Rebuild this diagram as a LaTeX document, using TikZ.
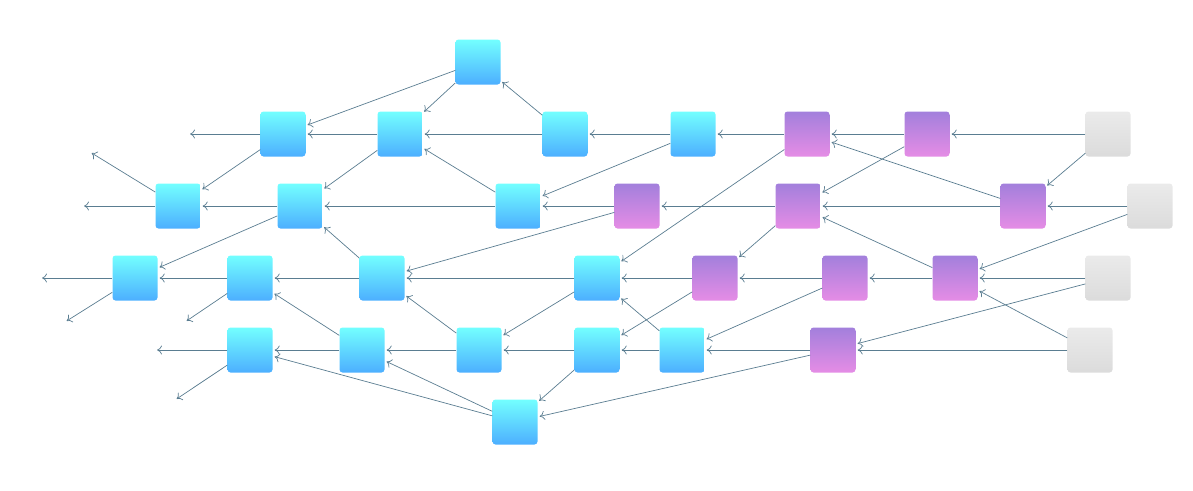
\documentclass[tikz,border=0pt]{standalone}
\usetikzlibrary{arrows.meta}
\begin{document}
\begin{tikzpicture}[x=1pt,y=-1pt,
 sq/.style={minimum size=45pt,inner sep=0pt,rounded corners=3pt,shading=axis,shading angle=225},
 bl/.style={sq,top color=cyan!55!white,bottom color=blue!45!cyan!70!white},
 pu/.style={sq,top color=blue!45!violet!50!white,bottom color=violet!45!magenta!45!white},
 gr/.style={sq,top color=black!8,bottom color=black!14},
 ed/.style={draw={rgb,255:red,90;green,125;blue,145},line width=0.7pt,-{To[length=5pt,width=9pt]},shorten >=2pt}]
\useasboundingbox (0,0) rectangle (1193,490);
\node[bl] (A0) at (478,62) {};
\foreach \n/\x/\s in {B1/283/bl,B2/400/bl,B3/565/bl,B4/693/bl,B5/807/pu,B6/927/pu,B7/1108/gr}
 \node[\s] (\n) at (\x,134) {};
\foreach \n/\x/\s in {C1/178/bl,C2/300/bl,C3/518/bl,C4/637/pu,C5/798/pu,C6/1023/pu,C7/1150/gr}
 \node[\s] (\n) at (\x,206) {};
\foreach \n/\x/\s in {D1/135/bl,D2/250/bl,D3/382/bl,D4/597/bl,D5/715/pu,D6/845/pu,D7/955/pu,D8/1108/gr}
 \node[\s] (\n) at (\x,278) {};
\foreach \n/\x/\s in {E1/250/bl,E2/362/bl,E3/479/bl,E4/597/bl,E5/682/bl,E6/833/pu,E7/1090/gr}
 \node[\s] (\n) at (\x,350) {};
\node[bl] (F1) at (515,422) {};
\coordinate (f1) at (188,134);
\coordinate (f2) at (90,152);
\coordinate (f3) at (82,206);
\coordinate (f4) at (40,278);
\coordinate (f5) at (65,322);
\coordinate (f6) at (185,322);
\coordinate (f7) at (155,350);
\coordinate (f8) at (175,400);
\foreach \a/\b in {A0/B1,A0/B2,B3/A0,B1/f1,B2/B1,B3/B2,B4/B3,B5/B4,B6/B5,B7/B6,
 B1/C1,B2/C2,C3/B2,B4/C3,B5/D4,B6/C5,C6/B5,B7/C6,
 C1/f2,C1/f3,C2/C1,C3/C2,C4/C3,C5/C4,C6/C5,C7/C6,
 C2/D1,D3/C2,C4/D3,C5/D5,D7/C5,C7/D7,
 D1/f4,D1/f5,D2/D1,D3/D2,D4/D3,D5/D4,D6/D5,D7/D6,D8/D7,
 D2/f6,E2/D2,E3/D3,D4/E3,D5/E4,E5/D4,D6/E5,E7/D7,D8/E6,
 E1/f7,E1/f8,E2/E1,E3/E2,E4/E3,E5/E4,E6/E5,E7/E6,
 F1/E1,F1/E2,E4/F1,E6/F1}
 \draw[ed] (\a) -- (\b);
\end{tikzpicture}
\end{document}
